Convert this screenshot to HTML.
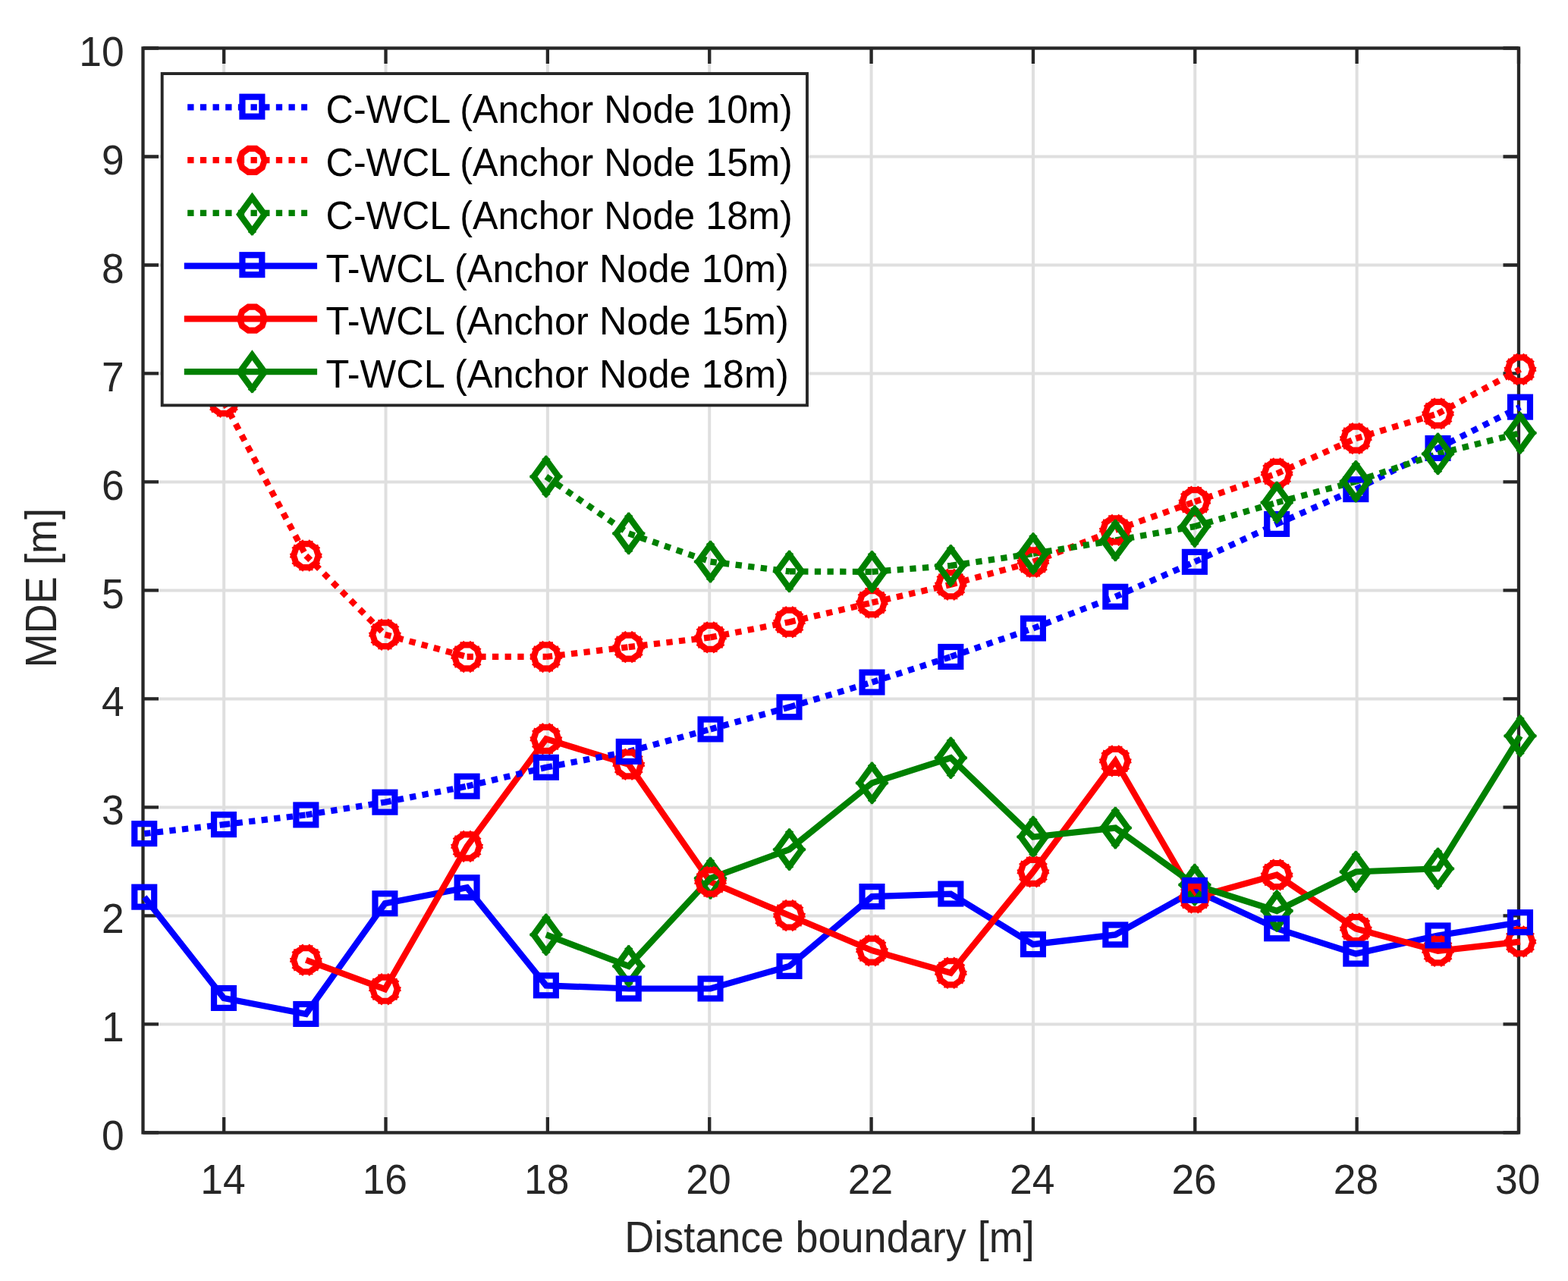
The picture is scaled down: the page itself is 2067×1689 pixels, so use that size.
<!DOCTYPE html>
<html><head><meta charset="utf-8"><title>MDE vs Distance boundary</title>
<style>
html,body{margin:0;padding:0;background:#fff;}
body{width:2067px;height:1689px;overflow:hidden;}
svg{display:block;}
text{font-family:"Liberation Sans",Arial,Helvetica,sans-serif;}
</style></head><body>
<svg width="2067" height="1689" viewBox="0 0 2067 1689">
<rect x="0" y="0" width="2067" height="1689" fill="#fff"/>

<path d="M295.18 63.50V1493.40M508.53 63.50V1493.40M721.88 63.50V1493.40M935.24 63.50V1493.40M1148.59 63.50V1493.40M1361.94 63.50V1493.40M1575.29 63.50V1493.40M1788.65 63.50V1493.40M188.50 1350.41H2002.00M188.50 1207.42H2002.00M188.50 1064.43H2002.00M188.50 921.44H2002.00M188.50 778.45H2002.00M188.50 635.46H2002.00M188.50 492.47H2002.00M188.50 349.48H2002.00M188.50 206.49H2002.00" stroke="#dfdfdf" stroke-width="4.0" fill="none"/>
<path d="M295.18 1493.40V1472.90M295.18 63.50V84.00M508.53 1493.40V1472.90M508.53 63.50V84.00M721.88 1493.40V1472.90M721.88 63.50V84.00M935.24 1493.40V1472.90M935.24 63.50V84.00M1148.59 1493.40V1472.90M1148.59 63.50V84.00M1361.94 1493.40V1472.90M1361.94 63.50V84.00M1575.29 1493.40V1472.90M1575.29 63.50V84.00M1788.65 1493.40V1472.90M1788.65 63.50V84.00M2002.00 1493.40V1472.90M2002.00 63.50V84.00M188.50 1493.40H209.00M2002.00 1493.40H1981.50M188.50 1350.41H209.00M2002.00 1350.41H1981.50M188.50 1207.42H209.00M2002.00 1207.42H1981.50M188.50 1064.43H209.00M2002.00 1064.43H1981.50M188.50 921.44H209.00M2002.00 921.44H1981.50M188.50 778.45H209.00M2002.00 778.45H1981.50M188.50 635.46H209.00M2002.00 635.46H1981.50M188.50 492.47H209.00M2002.00 492.47H1981.50M188.50 349.48H209.00M2002.00 349.48H1981.50M188.50 206.49H209.00M2002.00 206.49H1981.50M188.50 63.50H209.00M2002.00 63.50H1981.50" stroke="#262626" stroke-width="4.3" fill="none"/>
<rect x="188.5" y="63.5" width="1813.5" height="1429.9" fill="none" stroke="#262626" stroke-width="4.3"/>
<text transform="translate(293.98 1574.40) scale(1.0000 1.0450)" font-size="53.4" fill="#262626" text-anchor="middle">14</text>
<text transform="translate(507.33 1574.40) scale(1.0000 1.0450)" font-size="53.4" fill="#262626" text-anchor="middle">16</text>
<text transform="translate(720.68 1574.40) scale(1.0000 1.0450)" font-size="53.4" fill="#262626" text-anchor="middle">18</text>
<text transform="translate(934.04 1574.40) scale(1.0000 1.0450)" font-size="53.4" fill="#262626" text-anchor="middle">20</text>
<text transform="translate(1147.39 1574.40) scale(1.0000 1.0450)" font-size="53.4" fill="#262626" text-anchor="middle">22</text>
<text transform="translate(1360.74 1574.40) scale(1.0000 1.0450)" font-size="53.4" fill="#262626" text-anchor="middle">24</text>
<text transform="translate(1574.09 1574.40) scale(1.0000 1.0450)" font-size="53.4" fill="#262626" text-anchor="middle">26</text>
<text transform="translate(1787.45 1574.40) scale(1.0000 1.0450)" font-size="53.4" fill="#262626" text-anchor="middle">28</text>
<text transform="translate(2000.80 1574.40) scale(1.0000 1.0450)" font-size="53.4" fill="#262626" text-anchor="middle">30</text>
<text transform="translate(163.60 1516.30) scale(1.0000 1.0450)" font-size="53.4" fill="#262626" text-anchor="end">0</text>
<text transform="translate(163.60 1372.81) scale(1.0000 1.0450)" font-size="53.4" fill="#262626" text-anchor="end">1</text>
<text transform="translate(163.60 1229.72) scale(1.0000 1.0450)" font-size="53.4" fill="#262626" text-anchor="end">2</text>
<text transform="translate(163.60 1087.33) scale(1.0000 1.0450)" font-size="53.4" fill="#262626" text-anchor="end">3</text>
<text transform="translate(163.60 943.74) scale(1.0000 1.0450)" font-size="53.4" fill="#262626" text-anchor="end">4</text>
<text transform="translate(163.60 802.45) scale(1.0000 1.0450)" font-size="53.4" fill="#262626" text-anchor="end">5</text>
<text transform="translate(163.60 659.46) scale(1.0000 1.0450)" font-size="53.4" fill="#262626" text-anchor="end">6</text>
<text transform="translate(163.60 515.77) scale(1.0000 1.0450)" font-size="53.4" fill="#262626" text-anchor="end">7</text>
<text transform="translate(163.60 373.18) scale(1.0000 1.0450)" font-size="53.4" fill="#262626" text-anchor="end">8</text>
<text transform="translate(163.60 230.19) scale(1.0000 1.0450)" font-size="53.4" fill="#262626" text-anchor="end">9</text>
<text transform="translate(163.60 87.10) scale(1.0000 1.0450)" font-size="53.4" fill="#262626" text-anchor="end">10</text>
<text transform="translate(1093.50 1650.80) scale(1.0120 1.0700)" font-size="53.4" fill="#262626" text-anchor="middle">Distance boundary [m]</text>
<text transform="translate(73.90 775.20) rotate(-90) scale(1.0150 1.0700)" font-size="53.4" fill="#262626" text-anchor="middle">MDE [m]</text>
<path d="M190.26 1182.68 L294.98 1315.95 L403.35 1336.97 L507.43 1191.26 L615.61 1170.24 L719.88 1299.36 L828.76 1303.51 L936.54 1303.51 L1040.51 1273.91 L1149.49 1182.11 L1253.36 1178.54 L1361.94 1245.17 L1470.32 1232.44 L1574.89 1173.82 L1683.17 1224.29 L1787.35 1257.61 L1895.52 1233.44 L2004.00 1216.14" fill="none" stroke="#0000ff" stroke-width="8.2" stroke-linejoin="miter"/>
<path d="M403.35 1265.76 L507.43 1304.22 L615.61 1115.91 L719.88 974.35 L828.76 1007.81 L936.54 1162.81 L1040.51 1206.99 L1149.49 1253.18 L1253.36 1282.78 L1361.94 1149.37 L1470.32 1003.37 L1574.89 1183.54 L1683.17 1153.51 L1787.35 1224.58 L1895.52 1253.89 L2004.00 1241.59" fill="none" stroke="#ff0000" stroke-width="8.2" stroke-linejoin="miter"/>
<path d="M719.88 1232.44 L828.76 1273.91 L936.54 1157.95 L1040.51 1120.05 L1149.49 1032.40 L1253.36 999.23 L1361.94 1103.47 L1470.32 1091.60 L1574.89 1166.67 L1683.17 1200.99 L1787.35 1149.51 L1895.52 1145.36 L2004.00 970.34" fill="none" stroke="#008000" stroke-width="8.2" stroke-linejoin="miter"/>
<path d="M190.26 1099.18L294.98 1087.17M294.98 1087.17L403.35 1074.44M403.35 1074.44L507.43 1057.71M507.43 1057.71L615.61 1036.69M615.61 1036.69L719.88 1011.81M719.88 1011.81L828.76 990.93M828.76 990.93L936.54 961.48M936.54 961.48L1040.51 932.31M1040.51 932.31L1149.49 899.56M1149.49 899.56L1253.36 865.96M1253.36 865.96L1361.94 828.50M1361.94 828.50L1470.32 786.74M1470.32 786.74L1574.89 740.84M1574.89 740.84L1683.17 690.94M1683.17 690.94L1787.35 645.18M1787.35 645.18L1895.52 590.99M1895.52 590.99L2004.00 536.65" fill="none" stroke="#0000ff" stroke-width="8.2" stroke-dasharray="8.33 8.33"/>
<path d="M294.98 529.65L403.35 732.55M403.35 732.55L507.43 836.65M507.43 836.65L615.61 865.96M615.61 865.96L719.88 865.96M719.88 865.96L828.76 853.09M828.76 853.09L936.54 840.36M936.54 840.36L1040.51 820.20M1040.51 820.20L1149.49 794.61M1149.49 794.61L1253.36 770.73M1253.36 770.73L1361.94 740.84M1361.94 740.84L1470.32 698.95M1470.32 698.95L1574.89 661.63M1574.89 661.63L1683.17 624.45M1683.17 624.45L1787.35 578.12M1787.35 578.12L1895.52 545.38M1895.52 545.38L2004.00 486.89" fill="none" stroke="#ff0000" stroke-width="8.2" stroke-dasharray="8.33 8.33"/>
<path d="M719.88 628.45L828.76 703.38M828.76 703.38L936.54 740.56M936.54 740.56L1040.51 753.43M1040.51 753.43L1149.49 753.86M1149.49 753.86L1253.36 745.85M1253.36 745.85L1361.94 729.98M1361.94 729.98L1470.32 712.53M1470.32 712.53L1574.89 694.09M1574.89 694.09L1683.17 662.63M1683.17 662.63L1787.35 634.75M1787.35 634.75L1895.52 598.43M1895.52 598.43L2004.00 570.97" fill="none" stroke="#008000" stroke-width="8.2" stroke-dasharray="8.33 8.33"/>
<path d="M719.88 1254.79L736.18 1232.44M736.18 1232.44L719.88 1210.09M719.88 1210.09L703.58 1232.44M703.58 1232.44L719.88 1254.79" fill="none" stroke="#008000" stroke-width="8.2" stroke-linecap="square"/>
<path d="M828.76 1296.26L845.06 1273.91M845.06 1273.91L828.76 1251.56M828.76 1251.56L812.46 1273.91M812.46 1273.91L828.76 1296.26" fill="none" stroke="#008000" stroke-width="8.2" stroke-linecap="square"/>
<path d="M936.54 1180.30L952.84 1157.95M952.84 1157.95L936.54 1135.60M936.54 1135.60L920.24 1157.95M920.24 1157.95L936.54 1180.30" fill="none" stroke="#008000" stroke-width="8.2" stroke-linecap="square"/>
<path d="M1040.51 1142.40L1056.81 1120.05M1056.81 1120.05L1040.51 1097.70M1040.51 1097.70L1024.21 1120.05M1024.21 1120.05L1040.51 1142.40" fill="none" stroke="#008000" stroke-width="8.2" stroke-linecap="square"/>
<path d="M1149.49 1054.75L1165.79 1032.40M1165.79 1032.40L1149.49 1010.05M1149.49 1010.05L1133.19 1032.40M1133.19 1032.40L1149.49 1054.75" fill="none" stroke="#008000" stroke-width="8.2" stroke-linecap="square"/>
<path d="M1253.36 1021.58L1269.66 999.23M1269.66 999.23L1253.36 976.88M1253.36 976.88L1237.06 999.23M1237.06 999.23L1253.36 1021.58" fill="none" stroke="#008000" stroke-width="8.2" stroke-linecap="square"/>
<path d="M1361.94 1125.82L1378.24 1103.47M1378.24 1103.47L1361.94 1081.12M1361.94 1081.12L1345.64 1103.47M1345.64 1103.47L1361.94 1125.82" fill="none" stroke="#008000" stroke-width="8.2" stroke-linecap="square"/>
<path d="M1470.32 1113.95L1486.62 1091.60M1486.62 1091.60L1470.32 1069.25M1470.32 1069.25L1454.02 1091.60M1454.02 1091.60L1470.32 1113.95" fill="none" stroke="#008000" stroke-width="8.2" stroke-linecap="square"/>
<path d="M1574.89 1189.02L1591.19 1166.67M1591.19 1166.67L1574.89 1144.32M1574.89 1144.32L1558.59 1166.67M1558.59 1166.67L1574.89 1189.02" fill="none" stroke="#008000" stroke-width="8.2" stroke-linecap="square"/>
<path d="M1683.17 1223.34L1699.47 1200.99M1699.47 1200.99L1683.17 1178.64M1683.17 1178.64L1666.87 1200.99M1666.87 1200.99L1683.17 1223.34" fill="none" stroke="#008000" stroke-width="8.2" stroke-linecap="square"/>
<path d="M1787.35 1171.86L1803.65 1149.51M1803.65 1149.51L1787.35 1127.16M1787.35 1127.16L1771.05 1149.51M1771.05 1149.51L1787.35 1171.86" fill="none" stroke="#008000" stroke-width="8.2" stroke-linecap="square"/>
<path d="M1895.52 1167.71L1911.82 1145.36M1911.82 1145.36L1895.52 1123.01M1895.52 1123.01L1879.22 1145.36M1879.22 1145.36L1895.52 1167.71" fill="none" stroke="#008000" stroke-width="8.2" stroke-linecap="square"/>
<path d="M2004.00 992.69L2020.30 970.34M2020.30 970.34L2004.00 947.99M2004.00 947.99L1987.70 970.34M1987.70 970.34L2004.00 992.69" fill="none" stroke="#008000" stroke-width="8.2" stroke-linecap="square"/>
<path d="M419.65 1265.76L416.54 1275.34M416.54 1275.34L408.39 1281.26M408.39 1281.26L398.32 1281.26M398.32 1281.26L390.17 1275.34M390.17 1275.34L387.05 1265.76M387.05 1265.76L390.17 1256.18M390.17 1256.18L398.32 1250.26M398.32 1250.26L408.39 1250.26M408.39 1250.26L416.54 1256.18M416.54 1256.18L419.65 1265.76" fill="none" stroke="#ff0000" stroke-width="8.2" stroke-linecap="square"/>
<path d="M523.73 1304.22L520.62 1313.81M520.62 1313.81L512.47 1319.73M512.47 1319.73L502.39 1319.73M502.39 1319.73L494.24 1313.81M494.24 1313.81L491.13 1304.22M491.13 1304.22L494.24 1294.64M494.24 1294.64L502.39 1288.72M502.39 1288.72L512.47 1288.72M512.47 1288.72L520.62 1294.64M520.62 1294.64L523.73 1304.22" fill="none" stroke="#ff0000" stroke-width="8.2" stroke-linecap="square"/>
<path d="M631.91 1115.91L628.79 1125.49M628.79 1125.49L620.64 1131.41M620.64 1131.41L610.57 1131.41M610.57 1131.41L602.42 1125.49M602.42 1125.49L599.31 1115.91M599.31 1115.91L602.42 1106.33M602.42 1106.33L610.57 1100.40M610.57 1100.40L620.64 1100.40M620.64 1100.40L628.79 1106.33M628.79 1106.33L631.91 1115.91" fill="none" stroke="#ff0000" stroke-width="8.2" stroke-linecap="square"/>
<path d="M736.18 974.35L733.07 983.93M733.07 983.93L724.92 989.85M724.92 989.85L714.85 989.85M714.85 989.85L706.70 983.93M706.70 983.93L703.58 974.35M703.58 974.35L706.70 964.77M706.70 964.77L714.85 958.84M714.85 958.84L724.92 958.84M724.92 958.84L733.07 964.77M733.07 964.77L736.18 974.35" fill="none" stroke="#ff0000" stroke-width="8.2" stroke-linecap="square"/>
<path d="M845.06 1007.81L841.95 1017.39M841.95 1017.39L833.80 1023.31M833.80 1023.31L823.72 1023.31M823.72 1023.31L815.57 1017.39M815.57 1017.39L812.46 1007.81M812.46 1007.81L815.57 998.23M815.57 998.23L823.72 992.30M823.72 992.30L833.80 992.30M833.80 992.30L841.95 998.23M841.95 998.23L845.06 1007.81" fill="none" stroke="#ff0000" stroke-width="8.2" stroke-linecap="square"/>
<path d="M952.84 1162.81L949.72 1172.39M949.72 1172.39L941.57 1178.31M941.57 1178.31L931.50 1178.31M931.50 1178.31L923.35 1172.39M923.35 1172.39L920.24 1162.81M920.24 1162.81L923.35 1153.23M923.35 1153.23L931.50 1147.30M931.50 1147.30L941.57 1147.30M941.57 1147.30L949.72 1153.23M949.72 1153.23L952.84 1162.81" fill="none" stroke="#ff0000" stroke-width="8.2" stroke-linecap="square"/>
<path d="M1056.81 1206.99L1053.70 1216.57M1053.70 1216.57L1045.55 1222.49M1045.55 1222.49L1035.47 1222.49M1035.47 1222.49L1027.32 1216.57M1027.32 1216.57L1024.21 1206.99M1024.21 1206.99L1027.32 1197.41M1027.32 1197.41L1035.47 1191.49M1035.47 1191.49L1045.55 1191.49M1045.55 1191.49L1053.70 1197.41M1053.70 1197.41L1056.81 1206.99" fill="none" stroke="#ff0000" stroke-width="8.2" stroke-linecap="square"/>
<path d="M1165.79 1253.18L1162.68 1262.76M1162.68 1262.76L1154.53 1268.68M1154.53 1268.68L1144.45 1268.68M1144.45 1268.68L1136.30 1262.76M1136.30 1262.76L1133.19 1253.18M1133.19 1253.18L1136.30 1243.60M1136.30 1243.60L1144.45 1237.67M1144.45 1237.67L1154.53 1237.67M1154.53 1237.67L1162.68 1243.60M1162.68 1243.60L1165.79 1253.18" fill="none" stroke="#ff0000" stroke-width="8.2" stroke-linecap="square"/>
<path d="M1269.66 1282.78L1266.55 1292.36M1266.55 1292.36L1258.40 1298.28M1258.40 1298.28L1248.33 1298.28M1248.33 1298.28L1240.18 1292.36M1240.18 1292.36L1237.06 1282.78M1237.06 1282.78L1240.18 1273.19M1240.18 1273.19L1248.33 1267.27M1248.33 1267.27L1258.40 1267.27M1258.40 1267.27L1266.55 1273.19M1266.55 1273.19L1269.66 1282.78" fill="none" stroke="#ff0000" stroke-width="8.2" stroke-linecap="square"/>
<path d="M1378.24 1149.37L1375.13 1158.95M1375.13 1158.95L1366.98 1164.87M1366.98 1164.87L1356.90 1164.87M1356.90 1164.87L1348.75 1158.95M1348.75 1158.95L1345.64 1149.37M1345.64 1149.37L1348.75 1139.79M1348.75 1139.79L1356.90 1133.86M1356.90 1133.86L1366.98 1133.86M1366.98 1133.86L1375.13 1139.79M1375.13 1139.79L1378.24 1149.37" fill="none" stroke="#ff0000" stroke-width="8.2" stroke-linecap="square"/>
<path d="M1486.62 1003.37L1483.50 1012.95M1483.50 1012.95L1475.35 1018.88M1475.35 1018.88L1465.28 1018.88M1465.28 1018.88L1457.13 1012.95M1457.13 1012.95L1454.02 1003.37M1454.02 1003.37L1457.13 993.79M1457.13 993.79L1465.28 987.87M1465.28 987.87L1475.35 987.87M1475.35 987.87L1483.50 993.79M1483.50 993.79L1486.62 1003.37" fill="none" stroke="#ff0000" stroke-width="8.2" stroke-linecap="square"/>
<path d="M1591.19 1183.54L1588.08 1193.12M1588.08 1193.12L1579.93 1199.04M1579.93 1199.04L1569.86 1199.04M1569.86 1199.04L1561.71 1193.12M1561.71 1193.12L1558.59 1183.54M1558.59 1183.54L1561.71 1173.96M1561.71 1173.96L1569.86 1168.04M1569.86 1168.04L1579.93 1168.04M1579.93 1168.04L1588.08 1173.96M1588.08 1173.96L1591.19 1183.54" fill="none" stroke="#ff0000" stroke-width="8.2" stroke-linecap="square"/>
<path d="M1699.47 1153.51L1696.36 1163.09M1696.36 1163.09L1688.21 1169.01M1688.21 1169.01L1678.13 1169.01M1678.13 1169.01L1669.98 1163.09M1669.98 1163.09L1666.87 1153.51M1666.87 1153.51L1669.98 1143.93M1669.98 1143.93L1678.13 1138.01M1678.13 1138.01L1688.21 1138.01M1688.21 1138.01L1696.36 1143.93M1696.36 1143.93L1699.47 1153.51" fill="none" stroke="#ff0000" stroke-width="8.2" stroke-linecap="square"/>
<path d="M1803.65 1224.58L1800.53 1234.16M1800.53 1234.16L1792.38 1240.08M1792.38 1240.08L1782.31 1240.08M1782.31 1240.08L1774.16 1234.16M1774.16 1234.16L1771.05 1224.58M1771.05 1224.58L1774.16 1215.00M1774.16 1215.00L1782.31 1209.08M1782.31 1209.08L1792.38 1209.08M1792.38 1209.08L1800.53 1215.00M1800.53 1215.00L1803.65 1224.58" fill="none" stroke="#ff0000" stroke-width="8.2" stroke-linecap="square"/>
<path d="M1911.82 1253.89L1908.71 1263.47M1908.71 1263.47L1900.56 1269.39M1900.56 1269.39L1890.49 1269.39M1890.49 1269.39L1882.34 1263.47M1882.34 1263.47L1879.22 1253.89M1879.22 1253.89L1882.34 1244.31M1882.34 1244.31L1890.49 1238.39M1890.49 1238.39L1900.56 1238.39M1900.56 1238.39L1908.71 1244.31M1908.71 1244.31L1911.82 1253.89" fill="none" stroke="#ff0000" stroke-width="8.2" stroke-linecap="square"/>
<path d="M2020.30 1241.59L2017.19 1251.18M2017.19 1251.18L2009.04 1257.10M2009.04 1257.10L1998.96 1257.10M1998.96 1257.10L1990.81 1251.18M1990.81 1251.18L1987.70 1241.59M1987.70 1241.59L1990.81 1232.01M1990.81 1232.01L1998.96 1226.09M1998.96 1226.09L2009.04 1226.09M2009.04 1226.09L2017.19 1232.01M2017.19 1232.01L2020.30 1241.59" fill="none" stroke="#ff0000" stroke-width="8.2" stroke-linecap="square"/>
<rect x="177.31" y="1169.73" width="25.90" height="25.90" fill="none" stroke="#0000ff" stroke-width="8.2" stroke-linejoin="miter"/>
<rect x="282.03" y="1303.00" width="25.90" height="25.90" fill="none" stroke="#0000ff" stroke-width="8.2" stroke-linejoin="miter"/>
<rect x="390.40" y="1324.02" width="25.90" height="25.90" fill="none" stroke="#0000ff" stroke-width="8.2" stroke-linejoin="miter"/>
<rect x="494.48" y="1178.31" width="25.90" height="25.90" fill="none" stroke="#0000ff" stroke-width="8.2" stroke-linejoin="miter"/>
<rect x="602.66" y="1157.29" width="25.90" height="25.90" fill="none" stroke="#0000ff" stroke-width="8.2" stroke-linejoin="miter"/>
<rect x="706.93" y="1286.41" width="25.90" height="25.90" fill="none" stroke="#0000ff" stroke-width="8.2" stroke-linejoin="miter"/>
<rect x="815.81" y="1290.56" width="25.90" height="25.90" fill="none" stroke="#0000ff" stroke-width="8.2" stroke-linejoin="miter"/>
<rect x="923.59" y="1290.56" width="25.90" height="25.90" fill="none" stroke="#0000ff" stroke-width="8.2" stroke-linejoin="miter"/>
<rect x="1027.56" y="1260.96" width="25.90" height="25.90" fill="none" stroke="#0000ff" stroke-width="8.2" stroke-linejoin="miter"/>
<rect x="1136.54" y="1169.16" width="25.90" height="25.90" fill="none" stroke="#0000ff" stroke-width="8.2" stroke-linejoin="miter"/>
<rect x="1240.41" y="1165.59" width="25.90" height="25.90" fill="none" stroke="#0000ff" stroke-width="8.2" stroke-linejoin="miter"/>
<rect x="1348.99" y="1232.22" width="25.90" height="25.90" fill="none" stroke="#0000ff" stroke-width="8.2" stroke-linejoin="miter"/>
<rect x="1457.37" y="1219.49" width="25.90" height="25.90" fill="none" stroke="#0000ff" stroke-width="8.2" stroke-linejoin="miter"/>
<rect x="1561.94" y="1160.87" width="25.90" height="25.90" fill="none" stroke="#0000ff" stroke-width="8.2" stroke-linejoin="miter"/>
<rect x="1670.22" y="1211.34" width="25.90" height="25.90" fill="none" stroke="#0000ff" stroke-width="8.2" stroke-linejoin="miter"/>
<rect x="1774.40" y="1244.66" width="25.90" height="25.90" fill="none" stroke="#0000ff" stroke-width="8.2" stroke-linejoin="miter"/>
<rect x="1882.57" y="1220.49" width="25.90" height="25.90" fill="none" stroke="#0000ff" stroke-width="8.2" stroke-linejoin="miter"/>
<rect x="1991.05" y="1203.19" width="25.90" height="25.90" fill="none" stroke="#0000ff" stroke-width="8.2" stroke-linejoin="miter"/>
<rect x="177.31" y="1086.23" width="25.90" height="25.90" fill="none" stroke="#0000ff" stroke-width="8.2" stroke-linejoin="miter"/>
<rect x="282.03" y="1074.22" width="25.90" height="25.90" fill="none" stroke="#0000ff" stroke-width="8.2" stroke-linejoin="miter"/>
<rect x="390.40" y="1061.49" width="25.90" height="25.90" fill="none" stroke="#0000ff" stroke-width="8.2" stroke-linejoin="miter"/>
<rect x="494.48" y="1044.76" width="25.90" height="25.90" fill="none" stroke="#0000ff" stroke-width="8.2" stroke-linejoin="miter"/>
<rect x="602.66" y="1023.74" width="25.90" height="25.90" fill="none" stroke="#0000ff" stroke-width="8.2" stroke-linejoin="miter"/>
<rect x="706.93" y="998.86" width="25.90" height="25.90" fill="none" stroke="#0000ff" stroke-width="8.2" stroke-linejoin="miter"/>
<rect x="815.81" y="977.98" width="25.90" height="25.90" fill="none" stroke="#0000ff" stroke-width="8.2" stroke-linejoin="miter"/>
<rect x="923.59" y="948.53" width="25.90" height="25.90" fill="none" stroke="#0000ff" stroke-width="8.2" stroke-linejoin="miter"/>
<rect x="1027.56" y="919.36" width="25.90" height="25.90" fill="none" stroke="#0000ff" stroke-width="8.2" stroke-linejoin="miter"/>
<rect x="1136.54" y="886.61" width="25.90" height="25.90" fill="none" stroke="#0000ff" stroke-width="8.2" stroke-linejoin="miter"/>
<rect x="1240.41" y="853.01" width="25.90" height="25.90" fill="none" stroke="#0000ff" stroke-width="8.2" stroke-linejoin="miter"/>
<rect x="1348.99" y="815.55" width="25.90" height="25.90" fill="none" stroke="#0000ff" stroke-width="8.2" stroke-linejoin="miter"/>
<rect x="1457.37" y="773.79" width="25.90" height="25.90" fill="none" stroke="#0000ff" stroke-width="8.2" stroke-linejoin="miter"/>
<rect x="1561.94" y="727.89" width="25.90" height="25.90" fill="none" stroke="#0000ff" stroke-width="8.2" stroke-linejoin="miter"/>
<rect x="1670.22" y="677.99" width="25.90" height="25.90" fill="none" stroke="#0000ff" stroke-width="8.2" stroke-linejoin="miter"/>
<rect x="1774.40" y="632.23" width="25.90" height="25.90" fill="none" stroke="#0000ff" stroke-width="8.2" stroke-linejoin="miter"/>
<rect x="1882.57" y="578.04" width="25.90" height="25.90" fill="none" stroke="#0000ff" stroke-width="8.2" stroke-linejoin="miter"/>
<rect x="1991.05" y="523.70" width="25.90" height="25.90" fill="none" stroke="#0000ff" stroke-width="8.2" stroke-linejoin="miter"/>
<path d="M311.28 529.65L308.16 539.23M308.16 539.23L300.01 545.15M300.01 545.15L289.94 545.15M289.94 545.15L281.79 539.23M281.79 539.23L278.68 529.65M278.68 529.65L281.79 520.07M281.79 520.07L289.94 514.15M289.94 514.15L300.01 514.15M300.01 514.15L308.16 520.07M308.16 520.07L311.28 529.65" fill="none" stroke="#ff0000" stroke-width="8.2" stroke-linecap="square"/>
<path d="M419.65 732.55L416.54 742.13M416.54 742.13L408.39 748.05M408.39 748.05L398.32 748.05M398.32 748.05L390.17 742.13M390.17 742.13L387.05 732.55M387.05 732.55L390.17 722.97M390.17 722.97L398.32 717.05M398.32 717.05L408.39 717.05M408.39 717.05L416.54 722.97M416.54 722.97L419.65 732.55" fill="none" stroke="#ff0000" stroke-width="8.2" stroke-linecap="square"/>
<path d="M523.73 836.65L520.62 846.23M520.62 846.23L512.47 852.15M512.47 852.15L502.39 852.15M502.39 852.15L494.24 846.23M494.24 846.23L491.13 836.65M491.13 836.65L494.24 827.07M494.24 827.07L502.39 821.14M502.39 821.14L512.47 821.14M512.47 821.14L520.62 827.07M520.62 827.07L523.73 836.65" fill="none" stroke="#ff0000" stroke-width="8.2" stroke-linecap="square"/>
<path d="M631.91 865.96L628.79 875.54M628.79 875.54L620.64 881.46M620.64 881.46L610.57 881.46M610.57 881.46L602.42 875.54M602.42 875.54L599.31 865.96M599.31 865.96L602.42 856.38M602.42 856.38L610.57 850.46M610.57 850.46L620.64 850.46M620.64 850.46L628.79 856.38M628.79 856.38L631.91 865.96" fill="none" stroke="#ff0000" stroke-width="8.2" stroke-linecap="square"/>
<path d="M736.18 865.96L733.07 875.54M733.07 875.54L724.92 881.46M724.92 881.46L714.85 881.46M714.85 881.46L706.70 875.54M706.70 875.54L703.58 865.96M703.58 865.96L706.70 856.38M706.70 856.38L714.85 850.46M714.85 850.46L724.92 850.46M724.92 850.46L733.07 856.38M733.07 856.38L736.18 865.96" fill="none" stroke="#ff0000" stroke-width="8.2" stroke-linecap="square"/>
<path d="M845.06 853.09L841.95 862.67M841.95 862.67L833.80 868.59M833.80 868.59L823.72 868.59M823.72 868.59L815.57 862.67M815.57 862.67L812.46 853.09M812.46 853.09L815.57 843.51M815.57 843.51L823.72 837.59M823.72 837.59L833.80 837.59M833.80 837.59L841.95 843.51M841.95 843.51L845.06 853.09" fill="none" stroke="#ff0000" stroke-width="8.2" stroke-linecap="square"/>
<path d="M952.84 840.36L949.72 849.95M949.72 849.95L941.57 855.87M941.57 855.87L931.50 855.87M931.50 855.87L923.35 849.95M923.35 849.95L920.24 840.36M920.24 840.36L923.35 830.78M923.35 830.78L931.50 824.86M931.50 824.86L941.57 824.86M941.57 824.86L949.72 830.78M949.72 830.78L952.84 840.36" fill="none" stroke="#ff0000" stroke-width="8.2" stroke-linecap="square"/>
<path d="M1056.81 820.20L1053.70 829.78M1053.70 829.78L1045.55 835.71M1045.55 835.71L1035.47 835.71M1035.47 835.71L1027.32 829.78M1027.32 829.78L1024.21 820.20M1024.21 820.20L1027.32 810.62M1027.32 810.62L1035.47 804.70M1035.47 804.70L1045.55 804.70M1045.55 804.70L1053.70 810.62M1053.70 810.62L1056.81 820.20" fill="none" stroke="#ff0000" stroke-width="8.2" stroke-linecap="square"/>
<path d="M1165.79 794.61L1162.68 804.19M1162.68 804.19L1154.53 810.11M1154.53 810.11L1144.45 810.11M1144.45 810.11L1136.30 804.19M1136.30 804.19L1133.19 794.61M1133.19 794.61L1136.30 785.03M1136.30 785.03L1144.45 779.11M1144.45 779.11L1154.53 779.11M1154.53 779.11L1162.68 785.03M1162.68 785.03L1165.79 794.61" fill="none" stroke="#ff0000" stroke-width="8.2" stroke-linecap="square"/>
<path d="M1269.66 770.73L1266.55 780.31M1266.55 780.31L1258.40 786.23M1258.40 786.23L1248.33 786.23M1248.33 786.23L1240.18 780.31M1240.18 780.31L1237.06 770.73M1237.06 770.73L1240.18 761.15M1240.18 761.15L1248.33 755.23M1248.33 755.23L1258.40 755.23M1258.40 755.23L1266.55 761.15M1266.55 761.15L1269.66 770.73" fill="none" stroke="#ff0000" stroke-width="8.2" stroke-linecap="square"/>
<path d="M1378.24 740.84L1375.13 750.42M1375.13 750.42L1366.98 756.35M1366.98 756.35L1356.90 756.35M1356.90 756.35L1348.75 750.42M1348.75 750.42L1345.64 740.84M1345.64 740.84L1348.75 731.26M1348.75 731.26L1356.90 725.34M1356.90 725.34L1366.98 725.34M1366.98 725.34L1375.13 731.26M1375.13 731.26L1378.24 740.84" fill="none" stroke="#ff0000" stroke-width="8.2" stroke-linecap="square"/>
<path d="M1486.62 698.95L1483.50 708.53M1483.50 708.53L1475.35 714.45M1475.35 714.45L1465.28 714.45M1465.28 714.45L1457.13 708.53M1457.13 708.53L1454.02 698.95M1454.02 698.95L1457.13 689.37M1457.13 689.37L1465.28 683.45M1465.28 683.45L1475.35 683.45M1475.35 683.45L1483.50 689.37M1483.50 689.37L1486.62 698.95" fill="none" stroke="#ff0000" stroke-width="8.2" stroke-linecap="square"/>
<path d="M1591.19 661.63L1588.08 671.21M1588.08 671.21L1579.93 677.13M1579.93 677.13L1569.86 677.13M1569.86 677.13L1561.71 671.21M1561.71 671.21L1558.59 661.63M1558.59 661.63L1561.71 652.05M1561.71 652.05L1569.86 646.12M1569.86 646.12L1579.93 646.12M1579.93 646.12L1588.08 652.05M1588.08 652.05L1591.19 661.63" fill="none" stroke="#ff0000" stroke-width="8.2" stroke-linecap="square"/>
<path d="M1699.47 624.45L1696.36 634.03M1696.36 634.03L1688.21 639.95M1688.21 639.95L1678.13 639.95M1678.13 639.95L1669.98 634.03M1669.98 634.03L1666.87 624.45M1666.87 624.45L1669.98 614.87M1669.98 614.87L1678.13 608.95M1678.13 608.95L1688.21 608.95M1688.21 608.95L1696.36 614.87M1696.36 614.87L1699.47 624.45" fill="none" stroke="#ff0000" stroke-width="8.2" stroke-linecap="square"/>
<path d="M1803.65 578.12L1800.53 587.70M1800.53 587.70L1792.38 593.62M1792.38 593.62L1782.31 593.62M1782.31 593.62L1774.16 587.70M1774.16 587.70L1771.05 578.12M1771.05 578.12L1774.16 568.54M1774.16 568.54L1782.31 562.62M1782.31 562.62L1792.38 562.62M1792.38 562.62L1800.53 568.54M1800.53 568.54L1803.65 578.12" fill="none" stroke="#ff0000" stroke-width="8.2" stroke-linecap="square"/>
<path d="M1911.82 545.38L1908.71 554.96M1908.71 554.96L1900.56 560.88M1900.56 560.88L1890.49 560.88M1890.49 560.88L1882.34 554.96M1882.34 554.96L1879.22 545.38M1879.22 545.38L1882.34 535.80M1882.34 535.80L1890.49 529.87M1890.49 529.87L1900.56 529.87M1900.56 529.87L1908.71 535.80M1908.71 535.80L1911.82 545.38" fill="none" stroke="#ff0000" stroke-width="8.2" stroke-linecap="square"/>
<path d="M2020.30 486.89L2017.19 496.47M2017.19 496.47L2009.04 502.40M2009.04 502.40L1998.96 502.40M1998.96 502.40L1990.81 496.47M1990.81 496.47L1987.70 486.89M1987.70 486.89L1990.81 477.31M1990.81 477.31L1998.96 471.39M1998.96 471.39L2009.04 471.39M2009.04 471.39L2017.19 477.31M2017.19 477.31L2020.30 486.89" fill="none" stroke="#ff0000" stroke-width="8.2" stroke-linecap="square"/>
<path d="M719.88 650.80L736.18 628.45M736.18 628.45L719.88 606.10M719.88 606.10L703.58 628.45M703.58 628.45L719.88 650.80" fill="none" stroke="#008000" stroke-width="8.2" stroke-linecap="square"/>
<path d="M828.76 725.73L845.06 703.38M845.06 703.38L828.76 681.03M828.76 681.03L812.46 703.38M812.46 703.38L828.76 725.73" fill="none" stroke="#008000" stroke-width="8.2" stroke-linecap="square"/>
<path d="M936.54 762.91L952.84 740.56M952.84 740.56L936.54 718.21M936.54 718.21L920.24 740.56M920.24 740.56L936.54 762.91" fill="none" stroke="#008000" stroke-width="8.2" stroke-linecap="square"/>
<path d="M1040.51 775.78L1056.81 753.43M1056.81 753.43L1040.51 731.08M1040.51 731.08L1024.21 753.43M1024.21 753.43L1040.51 775.78" fill="none" stroke="#008000" stroke-width="8.2" stroke-linecap="square"/>
<path d="M1149.49 776.21L1165.79 753.86M1165.79 753.86L1149.49 731.51M1149.49 731.51L1133.19 753.86M1133.19 753.86L1149.49 776.21" fill="none" stroke="#008000" stroke-width="8.2" stroke-linecap="square"/>
<path d="M1253.36 768.20L1269.66 745.85M1269.66 745.85L1253.36 723.50M1253.36 723.50L1237.06 745.85M1237.06 745.85L1253.36 768.20" fill="none" stroke="#008000" stroke-width="8.2" stroke-linecap="square"/>
<path d="M1361.94 752.33L1378.24 729.98M1378.24 729.98L1361.94 707.63M1361.94 707.63L1345.64 729.98M1345.64 729.98L1361.94 752.33" fill="none" stroke="#008000" stroke-width="8.2" stroke-linecap="square"/>
<path d="M1470.32 734.88L1486.62 712.53M1486.62 712.53L1470.32 690.18M1470.32 690.18L1454.02 712.53M1454.02 712.53L1470.32 734.88" fill="none" stroke="#008000" stroke-width="8.2" stroke-linecap="square"/>
<path d="M1574.89 716.44L1591.19 694.09M1591.19 694.09L1574.89 671.74M1574.89 671.74L1558.59 694.09M1558.59 694.09L1574.89 716.44" fill="none" stroke="#008000" stroke-width="8.2" stroke-linecap="square"/>
<path d="M1683.17 684.98L1699.47 662.63M1699.47 662.63L1683.17 640.28M1683.17 640.28L1666.87 662.63M1666.87 662.63L1683.17 684.98" fill="none" stroke="#008000" stroke-width="8.2" stroke-linecap="square"/>
<path d="M1787.35 657.10L1803.65 634.75M1803.65 634.75L1787.35 612.40M1787.35 612.40L1771.05 634.75M1771.05 634.75L1787.35 657.10" fill="none" stroke="#008000" stroke-width="8.2" stroke-linecap="square"/>
<path d="M1895.52 620.78L1911.82 598.43M1911.82 598.43L1895.52 576.08M1895.52 576.08L1879.22 598.43M1879.22 598.43L1895.52 620.78" fill="none" stroke="#008000" stroke-width="8.2" stroke-linecap="square"/>
<path d="M2004.00 593.32L2020.30 570.97M2020.30 570.97L2004.00 548.62M2004.00 548.62L1987.70 570.97M1987.70 570.97L2004.00 593.32" fill="none" stroke="#008000" stroke-width="8.2" stroke-linecap="square"/>
<rect x="213.7" y="97.05" width="850.30" height="437.35" fill="#fff" stroke="#262626" stroke-width="3.9"/>
<path d="M247.2 141.45H405.1" stroke="#0000ff" stroke-width="8.2" stroke-dasharray="8.33 8.33"/>
<rect x="319.45" y="127.70" width="25.90" height="25.90" fill="none" stroke="#0000ff" stroke-width="8.2" stroke-linejoin="miter"/>
<text transform="translate(429.60 162.35) scale(1.0050 1.0500)" font-size="50" fill="#000">C-WCL (Anchor Node 10m)</text>
<path d="M247.2 211.20H405.1" stroke="#ff0000" stroke-width="8.2" stroke-dasharray="8.33 8.33"/>
<polygon points="348.70,211.40 345.59,220.98 337.44,226.90 327.36,226.90 319.21,220.98 316.10,211.40 319.21,201.82 327.36,195.90 337.44,195.90 345.59,201.82" fill="none" stroke="#ff0000" stroke-width="8.2" stroke-linejoin="miter"/>
<text transform="translate(429.60 232.10) scale(1.0050 1.0500)" font-size="50" fill="#000">C-WCL (Anchor Node 15m)</text>
<path d="M247.2 280.95H405.1" stroke="#008000" stroke-width="8.2" stroke-dasharray="8.33 8.33"/>
<path d="M332.40 305.10L348.70 282.75L332.40 260.40L316.10 282.75L332.40 305.10" fill="none" stroke="#008000" stroke-width="8.2" stroke-linejoin="miter" stroke-linecap="square"/>
<text transform="translate(429.60 301.85) scale(1.0050 1.0500)" font-size="50" fill="#000">C-WCL (Anchor Node 18m)</text>
<path d="M242.8 350.70H418.1" stroke="#0000ff" stroke-width="8.2"/>
<rect x="319.45" y="336.25" width="25.90" height="25.90" fill="none" stroke="#0000ff" stroke-width="8.2" stroke-linejoin="miter"/>
<text transform="translate(429.60 371.60) scale(1.0107 1.0500)" font-size="50" fill="#000">T-WCL (Anchor Node 10m)</text>
<path d="M242.8 420.45H418.1" stroke="#ff0000" stroke-width="8.2"/>
<polygon points="348.70,420.15 345.59,429.73 337.44,435.65 327.36,435.65 319.21,429.73 316.10,420.15 319.21,410.57 327.36,404.65 337.44,404.65 345.59,410.57" fill="none" stroke="#ff0000" stroke-width="8.2" stroke-linejoin="miter"/>
<text transform="translate(429.60 441.35) scale(1.0107 1.0500)" font-size="50" fill="#000">T-WCL (Anchor Node 15m)</text>
<path d="M242.8 490.20H418.1" stroke="#008000" stroke-width="8.2"/>
<path d="M332.40 512.85L348.70 490.50L332.40 468.15L316.10 490.50L332.40 512.85" fill="none" stroke="#008000" stroke-width="8.2" stroke-linejoin="miter" stroke-linecap="square"/>
<text transform="translate(429.60 511.10) scale(1.0107 1.0500)" font-size="50" fill="#000">T-WCL (Anchor Node 18m)</text>
</svg>
</body></html>
